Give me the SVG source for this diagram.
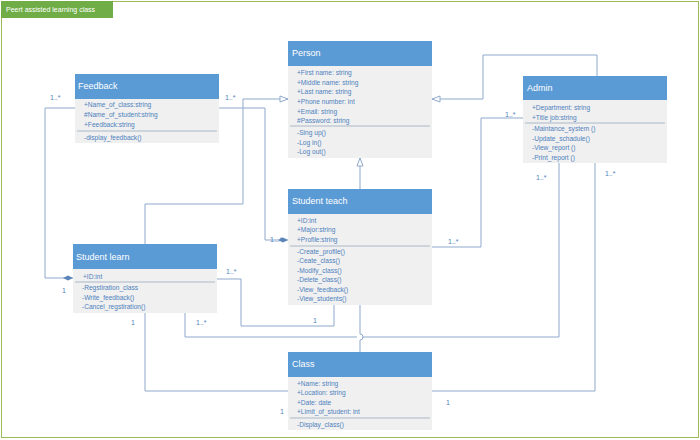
<svg xmlns="http://www.w3.org/2000/svg" width="700" height="440" viewBox="0 0 700 440">
<style>
.hd{fill:#5b9bd5}
.bd{fill:#f0f0f0}
.ht{font-family:"Liberation Sans",Arial,sans-serif;font-size:9px;fill:#fff}
.t{font-family:"Liberation Sans",Arial,sans-serif;font-size:6.6px;fill:#4f81bd}
.l{font-family:"Liberation Sans",Arial,sans-serif;font-size:7px;fill:#4f81bd}
.sep{stroke:#9ab;stroke-width:0.8}
.c{fill:none;stroke:#8ea9cc;stroke-width:1}
</style>
<defs>
<marker id="tri" markerWidth="10" markerHeight="10" refX="9" refY="4" orient="auto" markerUnits="userSpaceOnUse"><path d="M1,1 L9,4 L1,7 Z" fill="#fff" stroke="#8ea9cc"/></marker>
<marker id="dia" markerWidth="12" markerHeight="8" refX="11" refY="4" orient="auto" markerUnits="userSpaceOnUse"><path d="M1,4 L6,1.5 L11,4 L6,6.5 Z" fill="#5b85b8"/></marker>
</defs>
<rect width="700" height="440" fill="#fff"/>
<rect x="1.5" y="1.5" width="697" height="436" fill="none" stroke="#9bbb59"/>
<rect x="1" y="1" width="112" height="17" fill="#70ad47"/>
<text x="6" y="12" font-family="Liberation Sans,Arial,sans-serif" font-size="7px" fill="#fff">Peert assisted learning class</text>
<g id="connectors">
<path class="c" d="M75,108 H45 V278 H73" marker-end="url(#dia)"/>
<path class="c" d="M219,108 H265 V240 H288" marker-end="url(#dia)"/>
<path class="c" d="M145,244 V204 H243 V99 H288" marker-end="url(#tri)"/>
<path class="c" d="M597,76 V55 H483 V99 H432" marker-end="url(#tri)"/>
<path class="c" d="M360,189 V158" marker-end="url(#tri)"/>
<path class="c" d="M523,118 H481 V247 H432"/>
<path class="c" d="M334,305 V326 H241 V279 H217"/>
<path class="c" d="M360,305 V334 A3,3 0 0 1 360,340 V352"/>
<path class="c" d="M185,313 V337 H357 M363,337 H559 V163"/>
<path class="c" d="M145,313 V391 H288"/>
<path class="c" d="M595,163 V391 H432"/>
</g>
<g id="labels">
<text class="l" x="50" y="100">1..*</text>
<text class="l" x="62" y="293">1</text>
<text class="l" x="225" y="100">1..*</text>
<text class="l" x="270" y="242">1...*</text>
<text class="l" x="505" y="117">1..*</text>
<text class="l" x="448" y="244">1..*</text>
<text class="l" x="536" y="180">1..*</text>
<text class="l" x="605" y="176">1..*</text>
<text class="l" x="226" y="274">1..*</text>
<text class="l" x="313" y="323">1</text>
<text class="l" x="196" y="325">1..*</text>
<text class="l" x="131" y="325">1</text>
<text class="l" x="280" y="414">1</text>
<text class="l" x="446" y="405">1</text>
</g>
<g id="person">
<rect class="bd" x="288" y="41" width="144" height="117"/>
<rect class="hd" x="288" y="41" width="144" height="25"/>
<text class="ht" x="292" y="56">Person</text>
<text class="t" x="297" y="75">+First name: string</text>
<text class="t" x="297" y="85">+Middle name: string</text>
<text class="t" x="297" y="94">+Last name: string</text>
<text class="t" x="297" y="104">+Phone number: int</text>
<text class="t" x="297" y="114">+Email: string</text>
<text class="t" x="297" y="123">#Password: string</text>
<line class="sep" x1="290" y1="126" x2="430" y2="126"/>
<text class="t" x="297" y="135">-Sing up()</text>
<text class="t" x="297" y="145">-Log in()</text>
<text class="t" x="297" y="154">-Log out()</text>
</g>
<g id="feedback">
<rect class="bd" x="75" y="74" width="144" height="69"/>
<rect class="hd" x="75" y="74" width="144" height="25"/>
<text class="ht" x="78" y="89">Feedback</text>
<text class="t" x="84" y="107">+Name_of_class:string</text>
<text class="t" x="84" y="117">#Name_of_student:string</text>
<text class="t" x="84" y="127">+Feedback:string</text>
<line class="sep" x1="77" y1="131" x2="217" y2="131"/>
<text class="t" x="84" y="140">-display_feedback()</text>
</g>
<g id="admin">
<rect class="bd" x="523" y="76" width="144" height="87"/>
<rect class="hd" x="523" y="76" width="144" height="24"/>
<text class="ht" x="527" y="91">Admin</text>
<text class="t" x="532" y="110">+Department: string</text>
<text class="t" x="532" y="120">+Title job:string</text>
<line class="sep" x1="525" y1="123" x2="665" y2="123"/>
<text class="t" x="532" y="131">-Maintance_system ()</text>
<text class="t" x="532" y="141">-Update_schadule()</text>
<text class="t" x="532" y="150">-View_report ()</text>
<text class="t" x="532" y="160">-Print_report ()</text>
</g>
<g id="studentteach">
<rect class="bd" x="288" y="189" width="144" height="116"/>
<rect class="hd" x="288" y="189" width="144" height="25"/>
<text class="ht" x="292" y="204">Student teach</text>
<text class="t" x="297" y="223">+ID:int</text>
<text class="t" x="297" y="232">+Major:string</text>
<text class="t" x="297" y="242">+Profile:string</text>
<line class="sep" x1="290" y1="246" x2="430" y2="246"/>
<text class="t" x="297" y="254">-Create_profile()</text>
<text class="t" x="297" y="263">-Ceate_class()</text>
<text class="t" x="297" y="273">-Modify_class()</text>
<text class="t" x="297" y="282">-Delete_class()</text>
<text class="t" x="297" y="292">-View_feedback()</text>
<text class="t" x="297" y="301">-View_students()</text>
</g>
<g id="studentlearn">
<rect class="bd" x="73" y="244" width="144" height="69"/>
<rect class="hd" x="73" y="244" width="144" height="25"/>
<text class="ht" x="76" y="260">Student learn</text>
<text class="t" x="83" y="279">+ID:int</text>
<line class="sep" x1="75" y1="282" x2="215" y2="282"/>
<text class="t" x="82" y="290">-Regstiration_class</text>
<text class="t" x="82" y="300">-Write_feedback()</text>
<text class="t" x="82" y="309">-Cancel_regstiration()</text>
</g>
<g id="class">
<rect class="bd" x="288" y="352" width="144" height="78"/>
<rect class="hd" x="288" y="352" width="144" height="25"/>
<text class="ht" x="292" y="367">Class</text>
<text class="t" x="297" y="386">+Name: string</text>
<text class="t" x="297" y="395">+Location: string</text>
<text class="t" x="297" y="405">+Date: date</text>
<text class="t" x="297" y="414">+Limit_of_student: int</text>
<line class="sep" x1="290" y1="418" x2="430" y2="418"/>
<text class="t" x="297" y="427">-Display_class()</text>
</g>
</svg>
